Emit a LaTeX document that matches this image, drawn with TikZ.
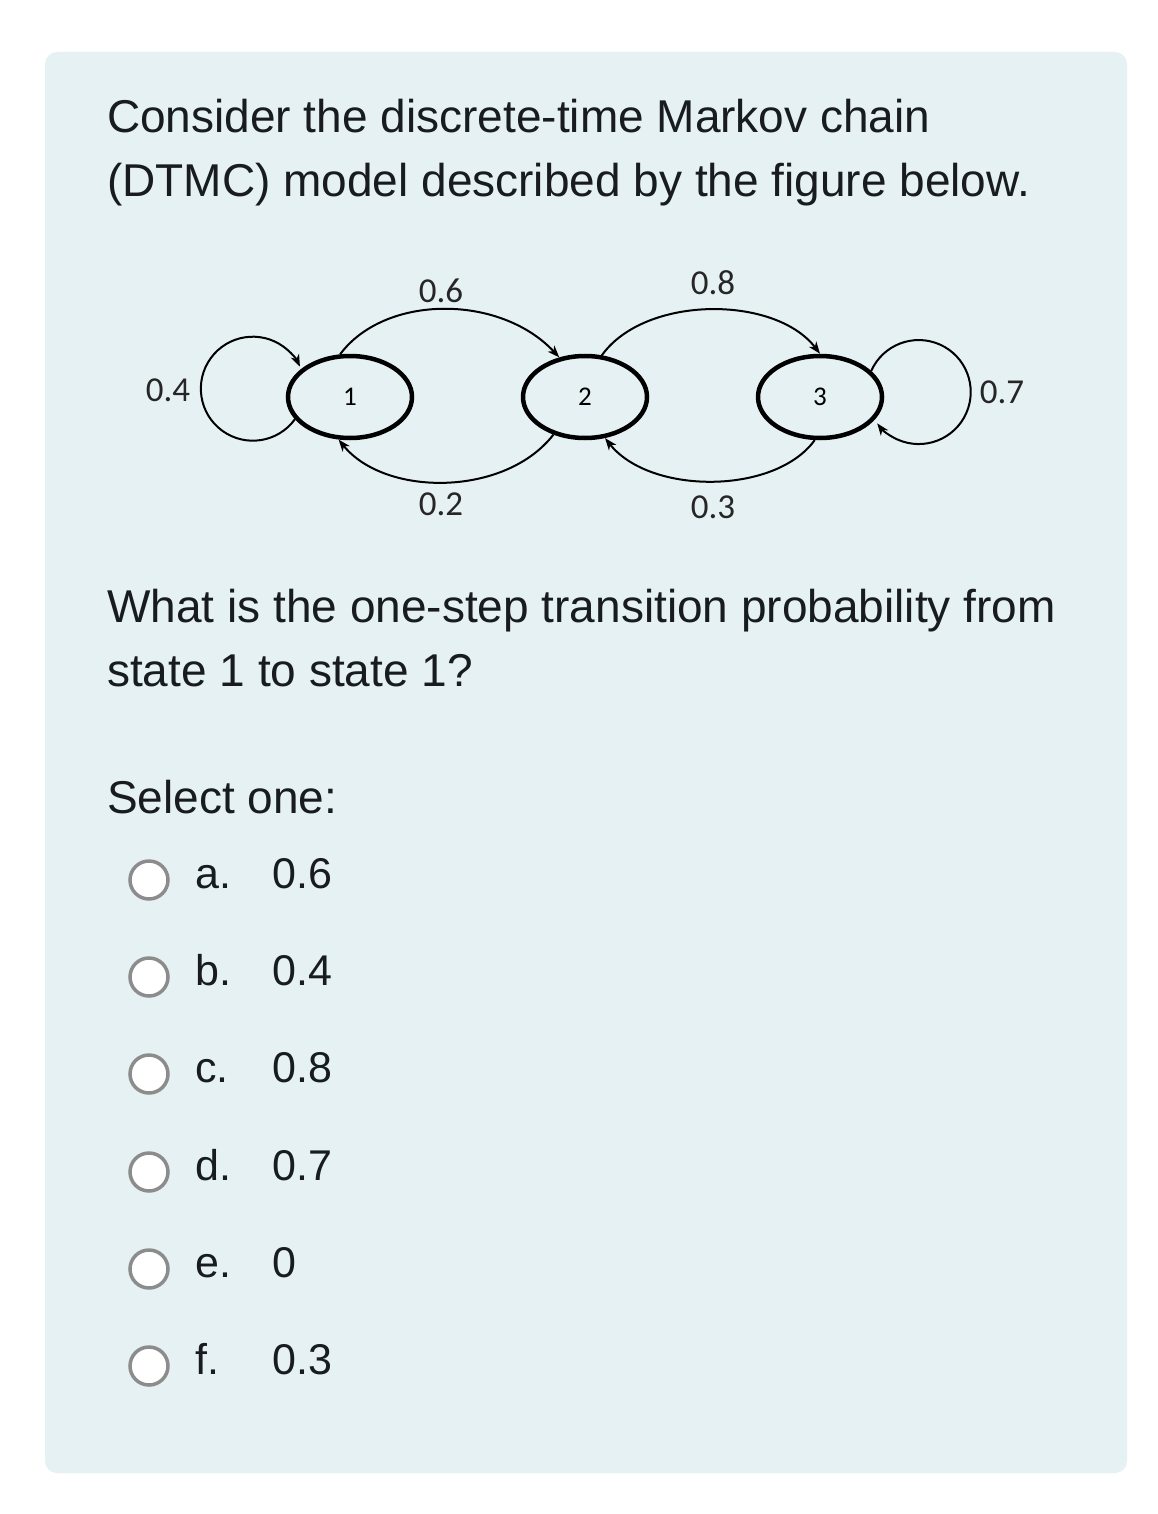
\documentclass[tikz,border=0pt]{standalone}
\usepackage{fontspec}
\setmainfont{Liberation Sans}
\newfontfamily\diagfont{Carlito}
\usetikzlibrary{shapes.geometric,arrows.meta}
\definecolor{panel}{RGB}{230,241,244}
\definecolor{ink}{RGB}{24,28,32}
\definecolor{radio}{RGB}{140,140,140}
\begin{document}
\begin{tikzpicture}[x=1pt,y=-1pt,
  body/.style={anchor=base west, inner sep=0pt, text=ink, font=\fontsize{46}{54}\selectfont},
  opt/.style={anchor=base west, inner sep=0pt, text=ink, font=\fontsize{43}{52}\selectfont},
  chainstate/.style={ellipse, draw=black, line width=4.5pt, minimum width=124pt, minimum height=82pt, inner sep=0pt, font=\diagfont\fontsize{27}{30}\selectfont},
  prob/.style={inner sep=0pt, text=black!85, font=\diagfont\fontsize{35}{40}\selectfont},
  trans/.style={line width=2pt, -{Stealth[length=12pt,width=9pt,inset=3.5pt]}},
  radiobtn/.style={circle, draw=radio, line width=3.5pt, fill=white, minimum size=38pt, inner sep=0pt}
]
\useasboundingbox (0,0) rectangle (1157,1514);
\fill[white] (0,0) rectangle (1157,1514);
\fill[panel, rounded corners=12pt] (45,52) rectangle (1127,1473);

\node[body] (q1) at (107,133) {Consider the discrete-time Markov chain};
\node[body] (q2) at (107,197) {(DTMC) model described by the figure below.};

\node[chainstate] (s1) at (350,397) {\raisebox{-3pt}{1}};
\node[chainstate] (s2) at (585,397) {\raisebox{-3pt}{2}};
\node[chainstate] (s3) at (820,397) {\raisebox{-3pt}{3}};

\draw[trans] (s1.103) .. controls (385,294) and (500,294) .. (s2.123);
\draw[trans] (s2.230) .. controls (505,497) and (385,497) .. (s1.255);
\draw[trans] (s2.68) .. controls (645,295) and (775,295) .. (s3.90);
\draw[trans] (s3.263) .. controls (775,495) and (650,495) .. (s2.296);
\draw[trans] (s1.202) arc[start angle=36, end angle=335, radius=52];
\draw[trans] (s3.27) arc[start angle=204, end angle=503, radius=52];

\node[prob] (l06) at (441,291) {0.6};
\node[prob] (l02) at (441,504) {0.2};
\node[prob] (l08) at (713,283) {0.8};
\node[prob] (l03) at (713,507) {0.3};
\node[prob] (l04) at (168,390) {0.4};
\node[prob] (l07) at (1002,392) {0.7};

\node[body] (q3) at (107,622) {What is the one-step transition probability from};
\node[body] (q4) at (107,686) {state 1 to state 1?};
\node[body] (sel) at (107,813) {Select one:};

\node[radiobtn] (ra) at (149,880) {};
\node[opt] (ta) at (195,888) {a.};
\node[opt] (va) at (272,888) {0.6};
\node[radiobtn] (rb) at (149,977) {};
\node[opt] (tb) at (195,985) {b.};
\node[opt] (vb) at (272,985) {0.4};
\node[radiobtn] (rc) at (149,1074) {};
\node[opt] (tc) at (195,1082) {c.};
\node[opt] (vc) at (272,1082) {0.8};
\node[radiobtn] (rd) at (149,1172) {};
\node[opt] (td) at (195,1180) {d.};
\node[opt] (vd) at (272,1180) {0.7};
\node[radiobtn] (re) at (149,1269) {};
\node[opt] (te) at (195,1277) {e.};
\node[opt] (ve) at (272,1277) {0};
\node[radiobtn] (rf) at (149,1366) {};
\node[opt] (tf) at (195,1374) {f.};
\node[opt] (vf) at (272,1374) {0.3};
\end{tikzpicture}
\end{document}
